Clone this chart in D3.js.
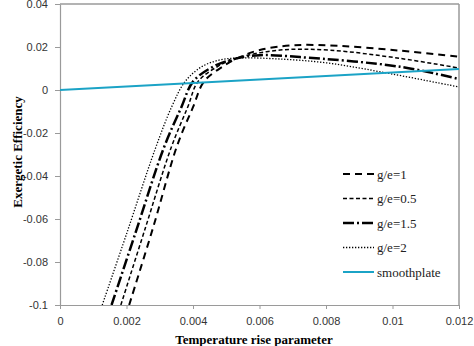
<!DOCTYPE html>
<html><head><meta charset="utf-8">
<script src="https://cdn.jsdelivr.net/npm/d3@7"></script>
<style>body{margin:0;background:#fff}svg{display:block}</style>
</head><body>
<svg id="c" width="474" height="346"></svg>
<script>
// Data
const xTicks = [0, 0.002, 0.004, 0.006, 0.008, 0.01, 0.012];
const xTickLabels = ["0", "0.002", "0.004", "0.006", "0.008", "0.01", "0.012"];
const yTicks = [0.04, 0.02, 0, -0.02, -0.04, -0.06, -0.08, -0.1];
const yTickLabels = ["0.04", "0.02", "0", "-0.02", "-0.04", "-0.06", "-0.08", "-0.1"];

const ge1X  = [0.00208, 0.00280, 0.00352, 0.00400, 0.00433, 0.00490, 0.00541, 0.00601, 0.00701, 0.00842, 0.01023, 0.0120];
const ge1Y  = [-0.1, -0.0640, -0.0260, -0.0080, 0.0039, 0.0110, 0.0153, 0.0186, 0.0208, 0.0205, 0.0183, 0.0155];
const ge05X = [0.00183, 0.00255, 0.00335, 0.00384, 0.00415, 0.00475, 0.00531, 0.00662, 0.00812, 0.01023, 0.0120];
const ge05Y = [-0.1, -0.0650, -0.0265, -0.0080, 0.0039, 0.0110, 0.0148, 0.0186, 0.0185, 0.0147, 0.0102];
const ge15X = [0.00155, 0.00228, 0.00312, 0.00365, 0.00400, 0.00460, 0.00531, 0.00601, 0.00722, 0.01023, 0.0120];
const ge15Y = [-0.1, -0.0660, -0.0270, -0.0080, 0.0039, 0.0108, 0.0147, 0.0162, 0.0153, 0.0108, 0.0051];
const ge2X  = [0.00127, 0.00200, 0.00285, 0.00336, 0.00376, 0.00426, 0.00481, 0.00541, 0.00662, 0.00803, 0.00962, 0.0120];
const ge2Y  = [-0.1, -0.0670, -0.0280, -0.0078, 0.0039, 0.0108, 0.0140, 0.0149, 0.0144, 0.0126, 0.0085, 0.0014];
const smoothX = [0, 0.012];
const smoothY = [0, 0.0098];

const seriesNames = ["g/e=1", "g/e=0.5", "g/e=1.5", "g/e=2", "smoothplate"];

const series = [
  {name: seriesNames[0], xs: ge1X, ys: ge1Y, color: "#000", width: 2, dash: "7,5"},
  {name: seriesNames[1], xs: ge05X, ys: ge05Y, color: "#000", width: 1.5, dash: "4,2.5"},
  {name: seriesNames[2], xs: ge15X, ys: ge15Y, color: "#000", width: 2.5, dash: "11,3,2,3"},
  {name: seriesNames[3], xs: ge2X, ys: ge2Y, color: "#000", width: 1.3, dash: "1.3,1.7"},
  {name: seriesNames[4], xs: smoothX, ys: smoothY, color: "#1ba3c6", width: 2, dash: null}
];

const svg = d3.select("#c");
const L = 60, R = 459, T = 4, B = 305;
const x = d3.scaleLinear().domain([0, 0.012]).range([L, R]);
const y = d3.scaleLinear().domain([-0.1, 0.04]).range([B, T]);

const axisColor = "#9a9a9a";
// frame top & right
svg.append("line").attr("x1", L).attr("x2", R).attr("y1", T).attr("y2", T).attr("stroke", axisColor).attr("stroke-width", 1.5);
svg.append("line").attr("x1", R).attr("x2", R).attr("y1", T).attr("y2", B).attr("stroke", axisColor).attr("stroke-width", 1.5);

const xAxis = d3.axisBottom(x).tickValues(xTicks).tickFormat((d, i) => xTickLabels[i]).tickSizeOuter(0).tickSizeInner(4).tickPadding(8);
const gx = svg.append("g").attr("transform", `translate(0,${B})`).call(xAxis);
const yAxis = d3.axisLeft(y).tickValues(yTicks).tickFormat((d, i) => yTickLabels[i]).tickSizeOuter(0).tickSizeInner(5).tickPadding(7);
const gy = svg.append("g").attr("transform", `translate(${L},0)`).call(yAxis);
[gx, gy].forEach(g => {
  g.select(".domain").attr("stroke", axisColor).attr("stroke-width", 1.2);
  g.selectAll(".tick line").attr("stroke", axisColor);
  g.selectAll("text").attr("fill", "#333").style("font-family", "'Liberation Sans', Arial, sans-serif").style("font-size", "11px");
});

const line = d3.line().x(d => x(d[0])).y(d => y(d[1])).curve(d3.curveCatmullRom.alpha(0.5));
svg.append("clipPath").attr("id", "pc").append("rect").attr("x", L).attr("y", T).attr("width", R - L).attr("height", B - T);
const plot = svg.append("g").attr("clip-path", "url(#pc)");
series.forEach(s => {
  const pts = s.xs.map((v, i) => [v, s.ys[i]]);
  plot.append("path").datum(pts).attr("d", line).attr("fill", "none")
    .attr("stroke", s.color).attr("stroke-width", s.width)
    .attr("stroke-dasharray", s.dash);
});

// Legend
const lg = svg.append("g");
series.forEach((s, i) => {
  const ly = 174 + i * 24.5;
  lg.append("line").attr("x1", 343).attr("x2", 374).attr("y1", ly).attr("y2", ly)
    .attr("stroke", s.color).attr("stroke-width", s.width).attr("stroke-dasharray", s.dash);
  lg.append("text").attr("x", 377).attr("y", ly + 4.5).text(s.name)
    .style("font-family", "'Liberation Serif', 'Times New Roman', serif").style("font-size", "13px").attr("fill", "#222");
});

// Axis titles
svg.append("text").attr("x", 254).attr("y", 344).attr("text-anchor", "middle")
  .style("font-family", "'Liberation Serif', 'Times New Roman', serif").style("font-size", "13px").style("font-weight", "bold")
  .text("Temperature rise parameter");
svg.append("text").attr("transform", "translate(17,152) rotate(-90)").attr("text-anchor", "middle")
  .attr("dy", "0.35em")
  .style("font-family", "'Liberation Serif', 'Times New Roman', serif").style("font-size", "13px").style("font-weight", "bold")
  .text("Exergetic Efficiency");
</script>
</body></html>
